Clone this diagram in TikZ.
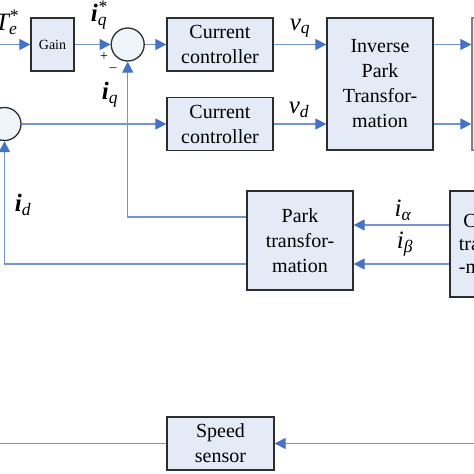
\documentclass[tikz,border=0pt]{standalone}
\usepackage{fontspec}
\setmainfont{Liberation Serif}
\newfontfamily\tnr{Liberation Serif}
\usetikzlibrary{arrows.meta,positioning,calc}
\definecolor{linec}{RGB}{115,150,208}
\definecolor{arrowc}{RGB}{68,114,196}
\definecolor{boxfill}{RGB}{228,235,246}
\definecolor{boxline}{RGB}{45,45,45}
\newcommand{\supsub}[2]{\rlap{\textsuperscript{#1}}\textsubscript{#2}}
\begin{document}
\begin{tikzpicture}[x=1pt,y=-1pt,
  blk/.style={draw=boxline,line width=1.3pt,fill=boxfill,rectangle,inner sep=0pt,align=center,font=\tnr\fontsize{20}{25}\selectfont},
  sumc/.style={draw=boxline,line width=1.3pt,fill=boxfill!60,circle,minimum size=33pt,inner sep=0pt},
  conn/.style={draw=linec,line width=1.2pt},
  arr/.style={conn,-{Triangle[length=11pt,width=11pt,color=arrowc]}},
  lbl/.style={inner sep=0pt,font=\tnr\itshape\fontsize{25}{28}\selectfont},
  sgn/.style={inner sep=0pt,font=\tnr\fontsize{14}{16}\selectfont}]
\useasboundingbox (0,0) rectangle (474,474);
\clip (0,0) rectangle (474,474);
% blocks
\node[blk,minimum width=43pt,minimum height=53pt,font=\tnr\fontsize{14}{16}\selectfont] (gain) at (52.5,44.5) {Gain};
\node[sumc] (sum1) at (127.7,44.5) {};
\node[sumc] (sum2) at (4.5,124) {};
\node[blk,minimum width=106pt,minimum height=53pt] (cc1) at (220,44.5) {Current\\controller};
\node[blk,minimum width=106pt,minimum height=53pt] (cc2) at (220,124) {Current\\controller};
\node[blk,minimum width=106pt,minimum height=132pt] (ipark) at (380,84) {Inverse\\Park\\Transfor-\\mation};
\node[blk,draw=gray,minimum width=76pt,minimum height=132pt] (rbox) at (510,84) {};
\node[blk,minimum width=106pt,minimum height=99pt] (park) at (300,240.5) {Park\\transfor-\\mation};
\node[blk,minimum width=80pt,minimum height=106pt,font=\tnr\fontsize{20}{23}\selectfont] (clarke) at (490,244) {Clarke\\transfor\\-mation};
\node[blk,minimum width=107pt,minimum height=53pt] (speed) at (220.5,443.5) {Speed\\sensor};
% free ends
\coordinate (in) at (0,44.5);
\coordinate (spR) at (474,443.5);
\coordinate (spL) at (0,443.5);
% connectors
\draw[arr] (in) -- (gain.west);
\draw[arr] (gain.east) -- (sum1.west);
\draw[arr] (sum1.east) -- (cc1.west);
\draw[arr] (cc1.east) -- (ipark.west |- cc1.east);
\draw[arr] (sum2.east) -- (cc2.west);
\draw[arr] (cc2.east) -- (ipark.west |- cc2.east);
\draw[arr] (ipark.east |- cc1.east) -- (rbox.west |- cc1.east);
\draw[arr] (ipark.east |- cc2.east) -- (rbox.west |- cc2.east);
\draw[arr] ([yshift=23.5pt]park.west) -| (sum1.south);
\draw[arr] ([yshift=-23.5pt]park.west) -| (sum2.south);
\draw[arr] ([yshift=19pt]clarke.west) -- ([yshift=19pt]clarke.west -| park.east);
\draw[arr] ([yshift=-20pt]clarke.west) -- ([yshift=-20pt]clarke.west -| park.east);
\draw[arr] (spR) -- (speed.east);
\draw[conn] (speed.west) -- (spL);
% labels
\node[lbl,anchor=west] (lT) at (-5,22) {T\supsub{*}{e}};
\node[lbl] (liqs) at (99,15) {\textbf{i}\supsub{*}{q}};
\node[sgn] (lplus) at (104,57) {+};
\node[sgn] (lminus) at (113,70) {\textendash};
\node[lbl] (liq) at (110,95) {\textbf{i}\textsubscript{q}};
\node[lbl] (lvq) at (300,28) {v\textsubscript{q}};
\node[lbl] (lvd) at (299,110) {v\textsubscript{d}};
\node[lbl] (lid) at (23,205) {\textbf{i}\textsubscript{d}};
\node[lbl] (lia) at (403,210) {i\textsubscript{α}};
\node[lbl] (lib) at (405,244) {i\textsubscript{β}};
\end{tikzpicture}
\end{document}
